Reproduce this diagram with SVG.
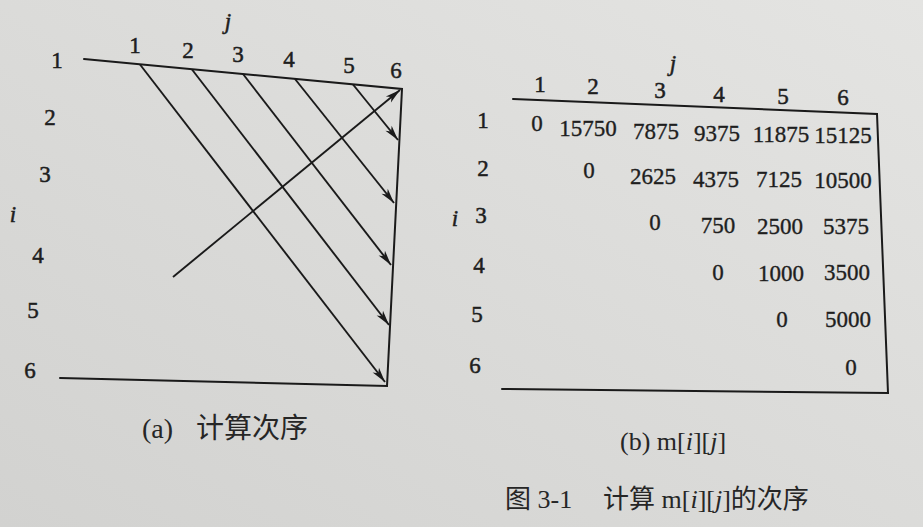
<svg xmlns="http://www.w3.org/2000/svg" width="923" height="527" viewBox="0 0 923 527">
<defs>
<linearGradient id="bg" x1="0" y1="1" x2="1" y2="0">
<stop offset="0" stop-color="#d2d2d0"/>
<stop offset="1" stop-color="#e4e4e2"/>
</linearGradient>
<marker id="ah" viewBox="-16 -5 17 10" markerWidth="17" markerHeight="10" refX="0" refY="0" orient="auto" markerUnits="userSpaceOnUse">
<path d="M0,0 L-15,-4 L-11,0 L-15,4 Z" fill="#1a1a1a"/>
</marker>
<style>
.ln{stroke:#1a1a1a;stroke-width:2;fill:none;stroke-linecap:round}
.ar{stroke:#1a1a1a;stroke-width:1.9;fill:none;marker-end:url(#ah)}
.d{font-family:"Liberation Serif","Times New Roman",serif;font-size:23px;fill:#1e1e1e;text-anchor:middle;stroke:#1e1e1e;stroke-width:0.5}
.v{font-family:"Liberation Serif","Times New Roman",serif;font-size:23px;fill:#1e1e1e;text-anchor:middle;stroke:#1e1e1e;stroke-width:0.35}
.it{font-style:italic}
.cap{font-family:"Liberation Serif","Noto Sans CJK SC",serif;font-size:26px;fill:#262626}
</style>
</defs>
<rect width="923" height="527" fill="url(#bg)"/>

<g id="diagram-a">
<polyline class="ln" points="84,59 402,89 387,386 60,378"/>
<text class="d it" x="228" y="29">j</text>
<text class="d" x="135" y="53">1</text>
<text class="d" x="188" y="58">2</text>
<text class="d" x="238" y="62">3</text>
<text class="d" x="289" y="67">4</text>
<text class="d" x="349" y="73">5</text>
<text class="d" x="396" y="78">6</text>
<text class="d" x="57" y="68">1</text>
<text class="d" x="50" y="125">2</text>
<text class="d" x="45" y="182">3</text>
<text class="d it" x="13" y="222">i</text>
<text class="d" x="38" y="263">4</text>
<text class="d" x="33" y="318">5</text>
<text class="d" x="30" y="378">6</text>
</g>

<g id="connectors">
<line class="ar" x1="140" y1="64.5" x2="385" y2="382"/>
<line class="ar" x1="192" y1="69.5" x2="389" y2="325"/>
<line class="ar" x1="243" y1="74" x2="391" y2="265"/>
<line class="ar" x1="295" y1="79" x2="394" y2="203"/>
<line class="ar" x1="353" y1="84.5" x2="398" y2="140"/>
<line class="ar" x1="173" y1="277" x2="400" y2="90"/>
</g>

<g id="table-b">
<polyline class="ln" points="513,99 877,114 888,393 502,389"/>
<text class="d it" x="673" y="71">j</text>
<text class="d" x="540" y="92">1</text>
<text class="d" x="593" y="94">2</text>
<text class="d" x="660" y="98">3</text>
<text class="d" x="719" y="102">4</text>
<text class="d" x="783" y="104">5</text>
<text class="d" x="843" y="105">6</text>
<text class="d" x="483" y="128">1</text>
<text class="d" x="483" y="176">2</text>
<text class="d" x="481" y="223">3</text>
<text class="d" x="479" y="273">4</text>
<text class="d" x="477" y="322">5</text>
<text class="d" x="475" y="373">6</text>
<text class="d it" x="455" y="226">i</text>
<text class="v" x="537" y="131">0</text>
<text class="v" x="588" y="136">15750</text>
<text class="v" x="656" y="139">7875</text>
<text class="v" x="717" y="141">9375</text>
<text class="v" x="781" y="142">11875</text>
<text class="v" x="843" y="143">15125</text>
<text class="v" x="589" y="178">0</text>
<text class="v" x="653" y="184">2625</text>
<text class="v" x="716" y="187">4375</text>
<text class="v" x="779" y="187">7125</text>
<text class="v" x="843" y="188">10500</text>
<text class="v" x="655" y="230">0</text>
<text class="v" x="718" y="233">750</text>
<text class="v" x="780" y="234">2500</text>
<text class="v" x="846" y="234">5375</text>
<text class="v" x="718" y="280">0</text>
<text class="v" x="781" y="281">1000</text>
<text class="v" x="847" y="280">3500</text>
<text class="v" x="782" y="327">0</text>
<text class="v" x="848" y="327">5000</text>
<text class="v" x="851" y="375">0</text>
</g>

<g id="captions">
<text class="cap" style="font-size:28px" y="438"><tspan x="142">(a)</tspan><tspan x="196">计算次序</tspan></text>
<text class="cap" x="620" y="450">(b) m[<tspan class="it">i</tspan>][<tspan class="it">j</tspan>]</text>
<text class="cap" y="508"><tspan x="505">图 3-1</tspan><tspan x="603">计算 m[<tspan class="it">i</tspan>][<tspan class="it">j</tspan>]的次序</tspan></text>
</g>
</svg>
